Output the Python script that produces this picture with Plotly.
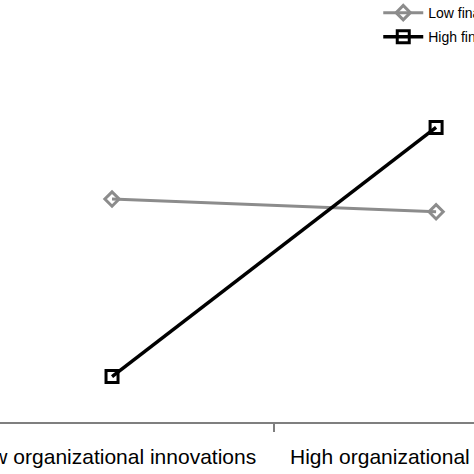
import plotly.graph_objects as go

categories = ["Low organizational innovations", "High organizational innovations"]
series_names = ["Low financial innovations", "High financial innovations"]
low_fin = [2.80, 2.64]
high_fin = [0.57, 3.70]

x_pos = [0, 1]

fig = go.Figure()
fig.add_trace(go.Scatter(
    x=x_pos, y=low_fin, name=series_names[0], mode="lines+markers",
    legendgroup="a",
    line=dict(color="#8c8c8c", width=3),
    marker=dict(symbol="diamond-open", size=11, color="#8c8c8c", line=dict(width=3)),
))
fig.add_trace(go.Scatter(
    x=x_pos, y=high_fin, name=series_names[1], mode="lines+markers",
    legendgroup="b",
    line=dict(color="#000000", width=3.5),
    marker=dict(symbol="square-open", size=12, color="#000000", line=dict(width=3)),
))

# category labels, centred under each category (overflowing like the original)
for xv, lab in zip(x_pos, categories):
    fig.add_annotation(x=xv, y=0, xref="x", yref="paper", yshift=-34,
                       text=lab, showarrow=False, xanchor="center", yanchor="middle",
                       font=dict(family="Liberation Sans, Arial", size=21, color="#000"))

fig.update_layout(
    width=474, height=474,
    margin=dict(l=0, r=0, t=0, b=52, autoexpand=False),
    plot_bgcolor="white", paper_bgcolor="white",
    showlegend=True,
    legend=dict(x=0.798, y=1.007, xanchor="left", yanchor="top",
                bgcolor="rgba(0,0,0,0)", itemwidth=40, tracegroupgap=3,
                traceorder="grouped",
                font=dict(family="Liberation Sans, Arial", size=14, color="#000")),
    xaxis=dict(range=[-0.3457, 1.117], showgrid=False, zeroline=False,
               showline=True, linecolor="#7f7f7f", linewidth=1.5,
               tickvals=[0.5], ticktext=[""], ticks="outside", ticklen=8,
               tickcolor="#7f7f7f", tickwidth=1.5),
    yaxis=dict(range=[0, 5.3], visible=False),
)

fig.write_html("out.html", config={"displayModeBar": False},
               post_script="document.body.style.margin='0';")
